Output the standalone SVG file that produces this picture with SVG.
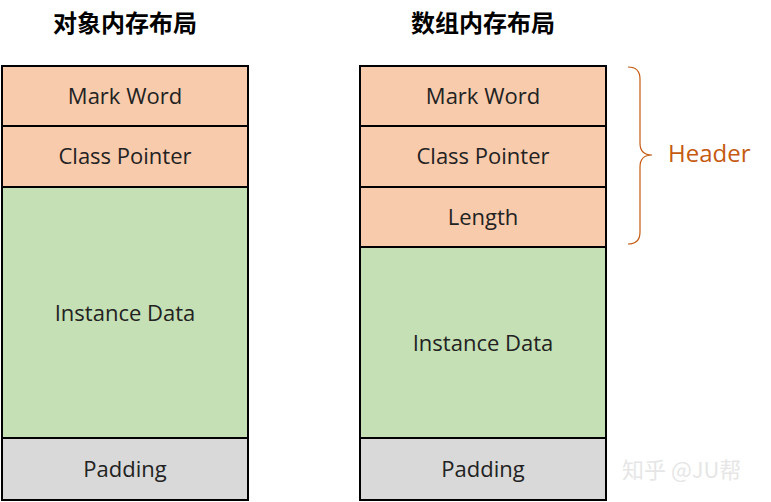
<svg xmlns="http://www.w3.org/2000/svg" width="771" height="502" viewBox="0 0 771 502">
<style>
.c{stroke:#000;stroke-width:2}
.o{fill:#f8cbad}.g{fill:#c5e0b4}.p{fill:#d9d9d9}
.t{font-family:"Open Sans","Noto Sans",sans-serif;font-size:22px;fill:#222;text-anchor:middle}
.h{font-family:"Noto Sans CJK SC",sans-serif;font-size:24px;font-weight:bold;fill:#000;text-anchor:middle}
</style>
<rect width="771" height="502" fill="#fff"/>
<text class="h" x="125" y="32">对象内存布局</text>
<text class="h" x="483" y="32">数组内存布局</text>
<g id="obj-mark"><rect class="c o" x="2" y="66" width="246" height="60"/><text class="t" x="125" y="104">Mark Word</text></g>
<g id="obj-class"><rect class="c o" x="2" y="126" width="246" height="61"/><text class="t" x="125" y="164">Class Pointer</text></g>
<g id="obj-inst"><rect class="c g" x="2" y="187" width="246" height="251"/><text class="t" x="125" y="321">Instance Data</text></g>
<g id="obj-pad"><rect class="c p" x="2" y="438" width="246" height="62"/><text class="t" x="125" y="477">Padding</text></g>
<g id="arr-mark"><rect class="c o" x="360" y="66" width="246" height="60"/><text class="t" x="483" y="104">Mark Word</text></g>
<g id="arr-class"><rect class="c o" x="360" y="126" width="246" height="61"/><text class="t" x="483" y="164">Class Pointer</text></g>
<g id="arr-len"><rect class="c o" x="360" y="187" width="246" height="60"/><text class="t" x="483" y="225">Length</text></g>
<g id="arr-inst"><rect class="c g" x="360" y="247" width="246" height="191"/><text class="t" x="483" y="351">Instance Data</text></g>
<g id="arr-pad"><rect class="c p" x="360" y="438" width="246" height="62"/><text class="t" x="483" y="477">Padding</text></g>
<g id="connectors">
<path d="M628 67 Q640 67 640 79 L640 143 Q640 155 652 155 Q640 155 640 167 L640 232 Q640 244 628 244" fill="none" stroke="#c55a11" stroke-width="1.2"/>
</g>
<text x="668" y="162" font-family="Open Sans,sans-serif" font-size="24" fill="#c55a11">Header</text>
<text x="622" y="478" font-family="Noto Sans CJK SC,sans-serif" font-size="22" fill="#e6e6e6">知乎 @JU帮</text>
</svg>
